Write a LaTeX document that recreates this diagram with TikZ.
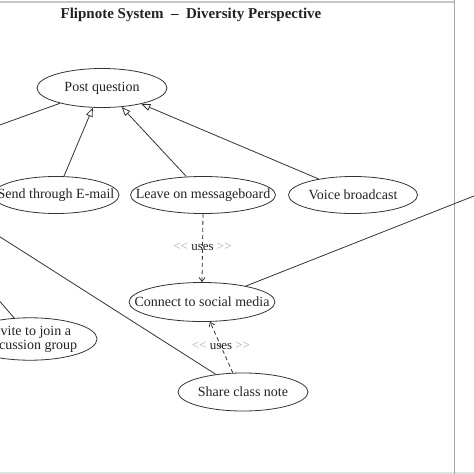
\documentclass[tikz,border=0pt]{standalone}
\usepackage{fontspec}
\setmainfont{Liberation Serif}
\newfontfamily\rawserif{Liberation Serif}
\usetikzlibrary{shapes.geometric,arrows.meta}
\definecolor{ink}{HTML}{333333}
\definecolor{txt}{HTML}{222222}
\definecolor{lgray}{HTML}{AAAAAA}
\tikzset{
  usecase/.style={ellipse, draw=ink, line width=0.8pt, inner sep=0pt, font=\fontsize{14}{16}\selectfont, text=txt, align=center},
  assoc/.style={draw=ink, line width=0.8pt},
  gen/.style={assoc, -{Triangle[open, length=9pt, width=7pt]}},
  usesarrow/.style={assoc, dashed, dash pattern=on 4pt off 3pt, -{Straight Barb[length=4pt, width=6pt]}},
  useslabel/.style={font=\rawserif\fontsize{13}{15}\selectfont, text=txt},
}
\newcommand{\zw}[1]{\makebox[0pt]{#1}}
\newcommand{\usestext}{\textcolor{lgray}{<\kern0pt<} uses \textcolor{lgray}{>\kern0pt>}}
\begin{document}
\begin{tikzpicture}[x=1pt,y=-1pt]
\useasboundingbox (0,0) rectangle (474,474);
\clip (0,0) rectangle (474,474);
% frame
\fill[gray!25] (0,471.5) rectangle (474,474);
\draw[gray!45, line width=1.5pt] (0,2) -- (455,2);
\draw[gray!70, line width=1.5pt] (454.5,0) -- (454.5,474);

\node[font=\bfseries\fontsize{15}{18}\selectfont, text=txt] (title) at (191,15) {Flipnote System \ \textendash\ \ Diversity Perspective};

\node[usecase, minimum width=130pt, minimum height=39pt] (pq) at (102,88) {\zw{Post question}};
\node[usecase, minimum width=126pt, minimum height=37pt] (email) at (56,195) {\zw{Send through E-mail}};
\node[usecase, minimum width=145pt, minimum height=37pt] (leave) at (203,195) {\zw{Leave on messageboard}};
\node[usecase, minimum width=129pt, minimum height=37pt] (voice) at (353,195) {\zw{Voice broadcast}};
\node[usecase, minimum width=146pt, minimum height=39pt] (csm) at (202,302) {\zw{Connect to social media}};
\node[usecase, minimum width=134pt, minimum height=42pt] (invite) at (30,339) {\zw{\begin{tabular}{@{}c@{}}Invite to join a\\[-2pt]discussion group\end{tabular}}};
\node[usecase, minimum width=130pt, minimum height=38pt] (share) at (243,392) {\zw{Share class note}};

\coordinate (actL1) at (-10,128.5);
\coordinate (actL2) at (-10,230.5);
\coordinate (actL3) at (-10,290);
\coordinate (actR) at (484,192);

\draw[assoc] (actL1) -- (pq.200);
\draw[gen] (email.67) -- (pq.245);
\draw[gen] (leave.132) -- (pq.316);
\draw[gen] (voice.155) -- (pq.338);

\draw[usesarrow] (leave.south) -- node[useslabel, pos=0.48] (u1) {\usestext} (csm.north);
\draw[usesarrow] (share.118) -- node[useslabel, pos=0.52] (u2) {\usestext} (csm.292);

\draw[assoc] (actL2) -- (share.147);
\draw[assoc] (actL3) -- (invite.127);
\draw[assoc] (csm.20) -- (actR);
\end{tikzpicture}
\end{document}
